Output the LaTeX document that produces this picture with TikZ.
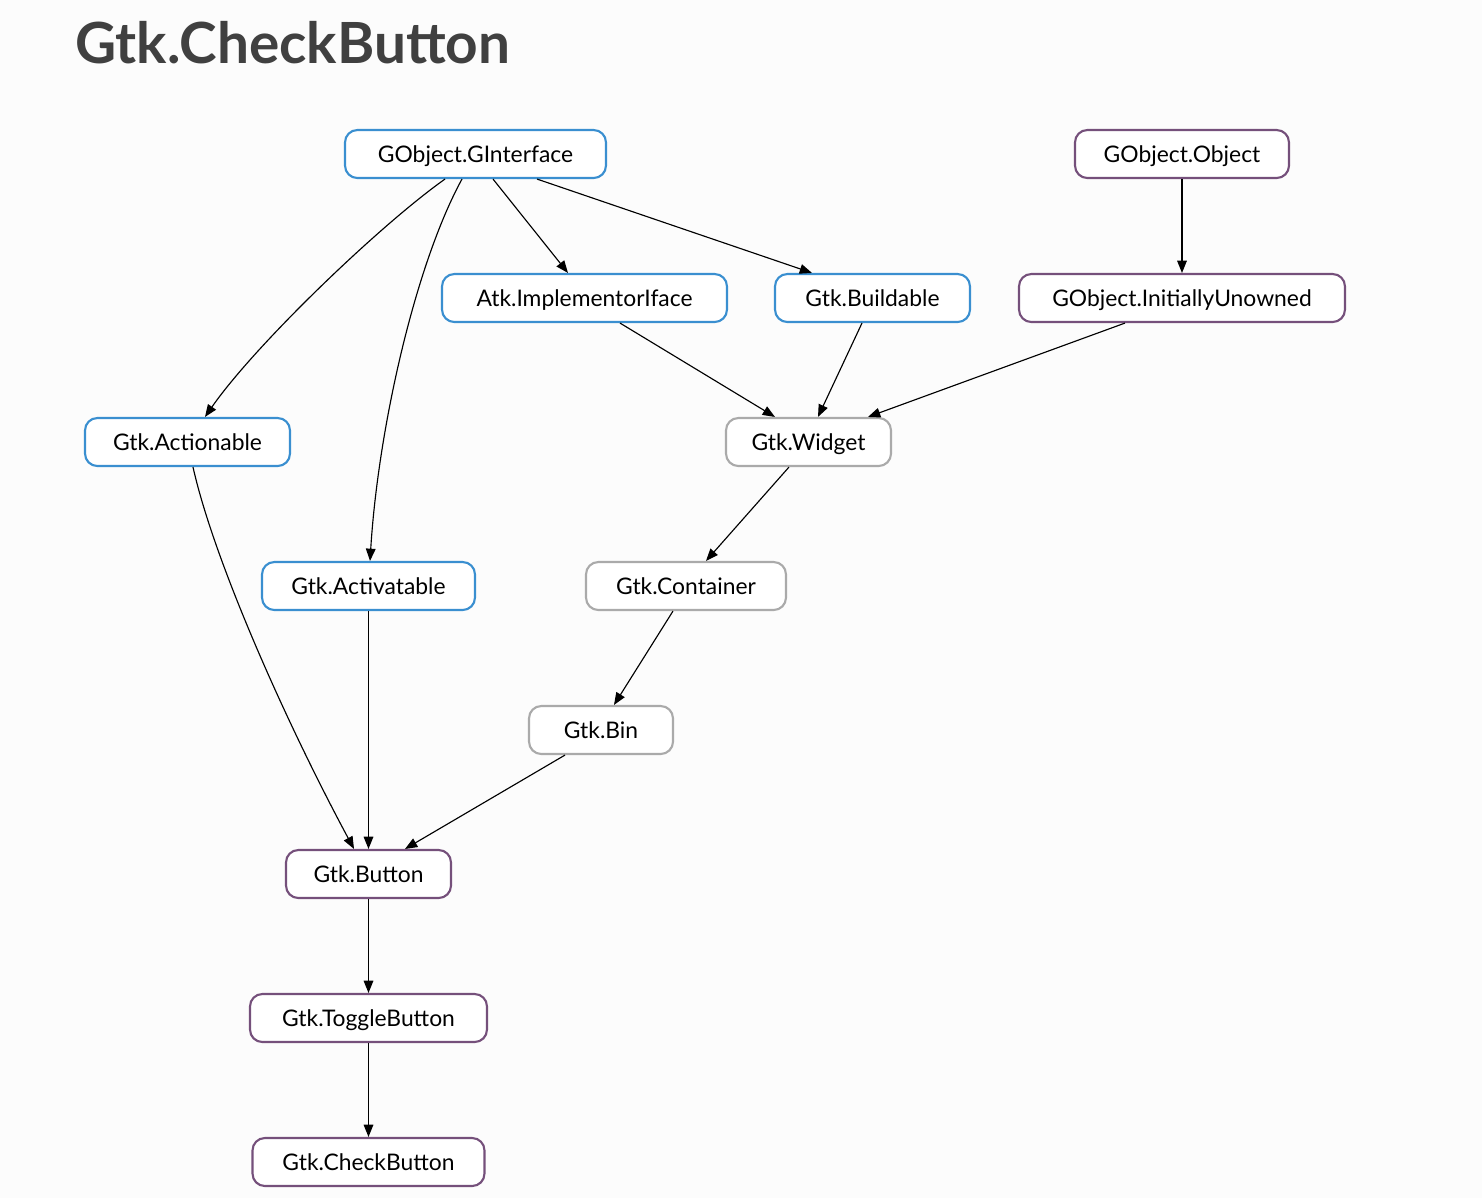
\documentclass[tikz,border=0pt]{standalone}
\usepackage{fontspec}
\setmainfont{Lato}
\usetikzlibrary{arrows.meta}
\definecolor{bgc}{HTML}{FCFCFC}
\definecolor{ifc}{HTML}{3A8FD0}
\definecolor{objc}{HTML}{75507B}
\definecolor{grc}{HTML}{AAAAAA}
\definecolor{titc}{HTML}{404040}
\tikzset{
  box/.style={draw, line width=1.2pt, rounded corners=7pt, fill=white, minimum height=0.96cm, inner sep=0pt, text height=12pt, text depth=2.5pt, font=\fontsize{13}{15}\selectfont, text=black},
  ibox/.style={box, draw=ifc},
  obox/.style={box, draw=objc},
  gbox/.style={box, draw=grc},
  edge/.style={draw=black, line width=0.65pt, -{Triangle[length=7pt,width=5.5pt]}}
}
\begin{document}
\begin{tikzpicture}[x=0.02cm,y=-0.02cm]
\fill[bgc] (0,0) rectangle (1482,1198);
\useasboundingbox (0,0) rectangle (1482,1198);
\node[anchor=base west, text=titc, font=\fontsize{32.3}{38}\selectfont\bfseries, inner sep=0pt] (title) at (75,63) {Gtk.CheckButton};
\node[ibox, minimum width=5.22cm] (gi) at (475.5,154) {GObject.GInterface};
\node[obox, minimum width=4.28cm] (go) at (1182,154) {GObject.Object};
\node[ibox, minimum width=5.70cm] (atk) at (584.5,298) {Atk.ImplementorIface};
\node[ibox, minimum width=3.90cm] (bld) at (872.5,298) {Gtk.Buildable};
\node[obox, minimum width=6.52cm] (iu) at (1182,298) {GObject.InitiallyUnowned};
\node[ibox, minimum width=4.10cm] (act) at (187.5,442) {Gtk.Actionable};
\node[gbox, minimum width=3.30cm] (wid) at (808.5,442) {Gtk.Widget};
\node[ibox, minimum width=4.26cm] (acv) at (368.5,586) {Gtk.Activatable};
\node[gbox, minimum width=4.00cm] (cont) at (686,586) {Gtk.Container};
\node[gbox, minimum width=2.88cm] (bin) at (601,730) {Gtk.Bin};
\node[obox, minimum width=3.30cm] (btn) at (368.5,874) {Gtk.Button};
\node[obox, minimum width=4.74cm] (tog) at (368.5,1018) {Gtk.ToggleButton};
\node[obox, minimum width=4.64cm] (chk) at (368.5,1162) {Gtk.CheckButton};
% edges
\draw[edge] ([xshift=-0.61cm]gi.south) .. controls (380,225) and (255,345) .. ([xshift=0.35cm]act.north);
\draw[edge] ([xshift=-0.27cm]gi.south) .. controls (415,265) and (378,430) .. ([xshift=0.03cm]acv.north);
\draw[edge] ([xshift=0.35cm]gi.south) -- ([xshift=-0.33cm]atk.north);
\draw[edge] ([xshift=1.23cm]gi.south) -- ([xshift=-1.21cm]bld.north);
\draw[edge] (go.south) -- (iu.north);
\draw[edge] ([xshift=0.71cm]atk.south) -- ([xshift=-0.67cm]wid.north);
\draw[edge] ([xshift=-0.21cm]bld.south) -- ([xshift=0.19cm]wid.north);
\draw[edge] ([xshift=-1.14cm]iu.south) -- ([xshift=1.19cm]wid.north);
\draw[edge] ([xshift=-0.39cm]wid.south) -- ([xshift=0.40cm]cont.north);
\draw[edge] ([xshift=-0.26cm]cont.south) -- ([xshift=0.26cm]bin.north);
\draw[edge] ([xshift=0.11cm]act.south) .. controls (215,565) and (290,730) .. ([xshift=-0.29cm]btn.north);
\draw[edge] (acv.south) -- (btn.north);
\draw[edge] ([xshift=-0.72cm]bin.south) -- ([xshift=0.73cm]btn.north);
\draw[edge] (btn.south) -- (tog.north);
\draw[edge] (tog.south) -- (chk.north);
\end{tikzpicture}
\end{document}
